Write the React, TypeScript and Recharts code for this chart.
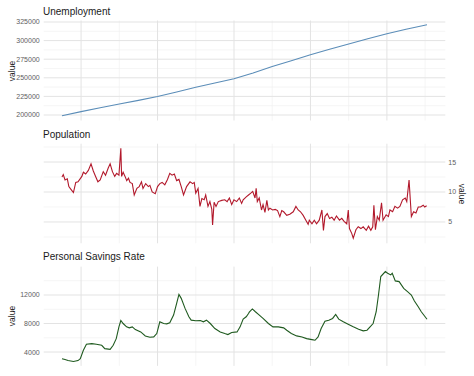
import { CartesianGrid, Line, LineChart, XAxis, YAxis } from "recharts";

const FONT = '"Liberation Sans", Arial, Helvetica, sans-serif';

// shared time axis (decimal years), ggplot-style 5% expansion
const xDomain: [number, number] = [1965.11, 2017.64];
const yearMajor = [1970, 1980, 1990, 2000, 2010];
const yearMinor = [1975, 1985, 1995, 2005, 2015];

// top panel ("Unemployment")
const popYears = [1967.5, 1970, 1972.5, 1975, 1977.5, 1980, 1982.5, 1985, 1987.5, 1990,
  1992.5, 1995, 1997.5, 2000, 2002.5, 2005, 2007.5, 2010, 2012.5, 2015.25];
const popValues = [199000, 204500, 209800, 214800, 219600, 224900, 231000, 237300, 243000, 248600,
  256500, 265200, 273000, 281000, 288300, 295300, 302500, 309300, 315300, 321400];
const popTicks = [200000, 225000, 250000, 275000, 300000, 325000];
const popMinor = [212500, 237500, 262500, 287500, 312500];

// middle panel ("Population")
const savYears = [
  1967.5, 1967.67, 1967.9, 1968.2, 1968.4, 1968.7, 1969.0, 1969.3, 1969.6, 1970.1,
  1970.3, 1970.6, 1970.95, 1971.3, 1971.6, 1971.9, 1972.2, 1972.5, 1972.9, 1973.2,
  1973.55, 1973.8, 1974.1, 1974.4, 1974.65, 1974.95, 1975.2, 1975.3, 1975.5, 1975.75,
  1975.97, 1976.2, 1976.4, 1976.7, 1976.95, 1977.3, 1977.6, 1977.9, 1978.1, 1978.45,
  1978.8, 1979.0, 1979.3, 1979.7, 1980.0, 1980.3, 1980.6, 1980.95, 1981.3, 1981.6,
  1981.9, 1982.2, 1982.5, 1982.8, 1983.1, 1983.4, 1983.8, 1984.25, 1984.6, 1984.8,
  1985.0, 1985.3, 1985.55, 1985.8, 1986.1, 1986.3, 1986.6, 1986.85, 1987.1, 1987.2,
  1987.4, 1987.65, 1987.95, 1988.4, 1988.8, 1989.1, 1989.4, 1989.7, 1990.0, 1990.35,
  1990.7, 1991.0, 1991.2, 1991.6, 1991.9, 1992.2, 1992.45, 1992.75, 1992.9, 1993.05,
  1993.3, 1993.6, 1993.8, 1994.05, 1994.3, 1994.5, 1994.7, 1995.05, 1995.4, 1995.7,
  1996.0, 1996.25, 1996.5, 1996.9, 1997.3, 1997.75, 1998.1, 1998.4, 1998.7, 1999.05,
  1999.4, 1999.7, 1999.85, 2000.2, 2000.5, 2000.8, 2001.15, 2001.5, 2001.7, 2001.9,
  2002.2, 2002.5, 2002.8, 2003.1, 2003.4, 2003.8, 2004.1, 2004.4, 2004.75, 2004.95,
  2005.1, 2005.4, 2005.6, 2005.95, 2006.25, 2006.6, 2006.9, 2007.3, 2007.6, 2007.9,
  2008.15, 2008.3, 2008.5, 2008.75, 2009.0, 2009.3, 2009.5, 2009.9, 2010.2, 2010.4,
  2010.75, 2011.05, 2011.4, 2011.7, 2012.05, 2012.4, 2012.6, 2012.9, 2013.2, 2013.5,
  2013.8, 2014.1, 2014.4, 2014.75, 2014.95, 2015.2,
];
const savValues = [
  12.5, 12.9, 12.0, 12.2, 10.9, 10.4, 9.9, 11.6, 11.7, 12.6,
  13.3, 13.0, 13.6, 14.7, 13.5, 12.6, 11.7, 12.0, 13.4, 12.8,
  14.0, 14.7, 13.4, 12.6, 13.1, 12.8, 17.3, 12.6, 13.3, 12.6,
  11.9, 12.3, 11.6, 11.4, 9.5, 10.6, 10.9, 11.7, 10.6, 11.4,
  10.9, 11.1, 10.0, 9.7, 10.9, 11.4, 11.6, 11.2, 12.1, 13.1,
  12.8, 13.0, 11.9, 12.1, 10.9, 9.5, 10.9, 11.7, 11.4, 11.6,
  9.8, 10.6, 7.6, 8.9, 8.7, 9.5, 7.6, 8.4, 7.1, 4.5,
  8.3, 7.6, 8.4, 8.6, 8.7, 8.4, 9.0, 7.9, 8.7, 8.4,
  9.0, 8.1, 8.7, 9.2, 9.5, 9.8, 10.1, 9.0, 10.6, 8.4,
  9.0, 7.0, 7.9, 6.6, 8.6, 7.0, 7.3, 7.0, 7.1, 6.9,
  5.9, 6.9, 6.7, 6.1, 6.3, 6.7, 7.6, 7.0, 6.7, 6.1,
  5.3, 4.6, 5.3, 4.7, 5.3, 4.7, 5.3, 7.0, 3.6, 5.9,
  6.4, 5.6, 5.8, 5.3, 6.0, 5.3, 5.6, 5.1, 4.7, 7.0,
  3.9, 3.1, 2.3, 3.7, 4.2, 3.9, 4.2, 3.6, 4.3, 3.6,
  4.2, 7.8, 3.7, 5.9, 5.3, 8.2, 5.3, 6.2, 5.9, 7.0,
  6.7, 7.6, 7.3, 7.6, 8.7, 9.0, 8.4, 12.0, 5.9, 6.7,
  6.5, 7.5, 7.5, 7.8, 7.5, 7.7,
];
const savTicks = [5, 10, 15];
const savMinor = [2.5, 7.5, 12.5, 17.5];

// bottom panel ("Personal Savings Rate")
const unYears = [
  1967.5, 1967.9, 1968.3, 1969.0, 1969.6, 1969.9, 1970.3, 1970.7, 1971.4, 1972.0,
  1972.7, 1973.1, 1973.8, 1974.2, 1974.6, 1974.95, 1975.2, 1975.5, 1975.95, 1976.3,
  1976.7, 1977.1, 1977.8, 1978.4, 1979.0, 1979.5, 1979.9, 1980.3, 1980.8, 1981.2,
  1981.6, 1982.1, 1982.5, 1982.8, 1983.1, 1983.6, 1984.1, 1984.4, 1985.0, 1985.6,
  1986.0, 1986.4, 1986.9, 1987.5, 1988.2, 1988.8, 1989.2, 1989.7, 1990.4, 1990.8,
  1991.2, 1991.6, 1991.9, 1992.0, 1992.4, 1992.8, 1993.2, 1993.8, 1994.5, 1995.1,
  1995.8, 1996.5, 1996.9, 1997.5, 1998.2, 1998.9, 1999.5, 2000.2, 2000.6, 2001.0,
  2001.4, 2001.9, 2002.4, 2002.9, 2003.3, 2003.7, 2004.3, 2005.0, 2005.6, 2006.3,
  2006.9, 2007.4, 2007.8, 2008.2, 2008.6, 2008.9, 2009.2, 2009.8, 2010.1, 2010.5,
  2010.7, 2011.1, 2011.6, 2012.2, 2012.7, 2013.2, 2013.6, 2014.1, 2014.5, 2015.25,
];
const unValues = [
  3060, 2960, 2820, 2680, 2800, 3060, 4240, 5080, 5180, 5080,
  4940, 4470, 4380, 4940, 5880, 7530, 8420, 8000, 7530, 7390,
  7530, 7150, 6820, 6260, 6070, 6120, 6590, 8240, 8000, 7950,
  8090, 9180, 10820, 12090, 11530, 10120, 8940, 8470, 8380, 8420,
  8240, 8470, 8000, 7290, 6820, 6590, 6450, 6730, 6820, 7530,
  8610, 8940, 9410, 9600, 10050, 9650, 9270, 8710, 8000, 7530,
  7530, 7390, 7060, 6590, 6260, 6120, 5880, 5740, 5650, 6120,
  7290, 8330, 8470, 8710, 9270, 8610, 8240, 7860, 7530, 7200,
  6970, 7060, 7530, 8000, 9650, 12000, 14590, 15290, 15060, 14820,
  15060, 13980, 13880, 12940, 12470, 12000, 11150, 10350, 9650, 8600,
];
const unTicks = [4000, 8000, 12000];
const unMinor = [6000, 10000, 14000];

const toRows = (xs: number[], ys: number[]) => xs.map((t, i) => ({ t, v: ys[i] }));

const popData = toRows(popYears, popValues);
const savData = toRows(savYears, savValues);
const unData = toRows(unYears, unValues);

const PLOT_LEFT = 43.7;
const PLOT_RIGHT_GAP = 28.7;

type PanelProps = {
  top: number;
  height: number;
  mTop: number;
  mBottom: number;
  data: { t: number; v: number }[];
  color: string;
  domain: [number, number];
  ticks: number[];
  minor: number[];
  side: "left" | "right";
};

function Panel({ top, height, mTop, mBottom, data, color, domain, ticks, minor, side }: PanelProps) {
  const left = side === "left";
  return (
    <div style={{ position: "absolute", left: 0, top }}>
      <LineChart
        width={474}
        height={height}
        data={data}
        margin={{ top: mTop, bottom: mBottom, left: left ? 0 : PLOT_LEFT, right: left ? PLOT_RIGHT_GAP : 0 }}
      >
        <CartesianGrid horizontalValues={minor} verticalValues={yearMinor} stroke="#f0f0f0" strokeWidth={0.7} />
        <CartesianGrid horizontalValues={ticks} verticalValues={yearMajor} stroke="#e3e3e3" strokeWidth={1} />
        <XAxis dataKey="t" type="number" domain={xDomain} ticks={yearMajor} hide allowDataOverflow />
        <YAxis
          orientation={side}
          width={left ? PLOT_LEFT : PLOT_RIGHT_GAP}
          type="number"
          domain={domain}
          ticks={ticks}
          interval={0}
          allowDataOverflow
          axisLine={false}
          tickLine={false}
          tickSize={0}
          tickMargin={left ? 4 : 3}
          tick={{ fill: "#5e5e5e", fontSize: 7, fontFamily: FONT }}
        />
        <Line type="linear" dataKey="v" stroke={color} strokeWidth={1.1} dot={false} isAnimationActive={false} />
      </LineChart>
    </div>
  );
}

const titleStyle = (top: number): React.CSSProperties => ({
  position: "absolute",
  left: 43,
  top,
  fontFamily: FONT,
  fontSize: 10,
  lineHeight: "12px",
  color: "#1a1a1a",
  whiteSpace: "nowrap",
});

const axisTitle = (cx: number, cy: number, deg: number): React.CSSProperties => ({
  position: "absolute",
  left: cx - 20,
  top: cy - 5,
  width: 40,
  height: 10,
  lineHeight: "10px",
  textAlign: "center",
  fontFamily: FONT,
  fontSize: 8.5,
  color: "#1a1a1a",
  transform: `rotate(${deg}deg)`,
});

export default function App() {
  return (
    <div style={{ position: "absolute", left: 0, top: 0, width: 474, height: 376, background: "#fff", overflow: "hidden" }}>
      <div style={titleStyle(6)}>Unemployment</div>
      <div style={titleStyle(129)}>Population</div>
      <div style={titleStyle(250.7)}>Personal Savings Rate</div>
      <div style={axisTitle(11.5, 70.5, -90)}>value</div>
      <div style={axisTitle(462, 193.5, 90)}>value</div>
      <div style={axisTitle(11.5, 316, -90)}>value</div>

      <Panel top={0} height={124} mTop={20.5} mBottom={3.5} data={popData} color="#5b8db8"
        domain={[192603, 326996]} ticks={popTicks} minor={popMinor} side="left" />
      <Panel top={124} height={124} mTop={19.7} mBottom={4.7} data={savData} color="#b2182b"
        domain={[1.445, 18.055]} ticks={savTicks} minor={savMinor} side="right" />
      <Panel top={248} height={128} mTop={18.6} mBottom={10.1} data={unData} color="#1f5a1f"
        domain={[2052, 15985]} ticks={unTicks} minor={unMinor} side="left" />
    </div>
  );
}
